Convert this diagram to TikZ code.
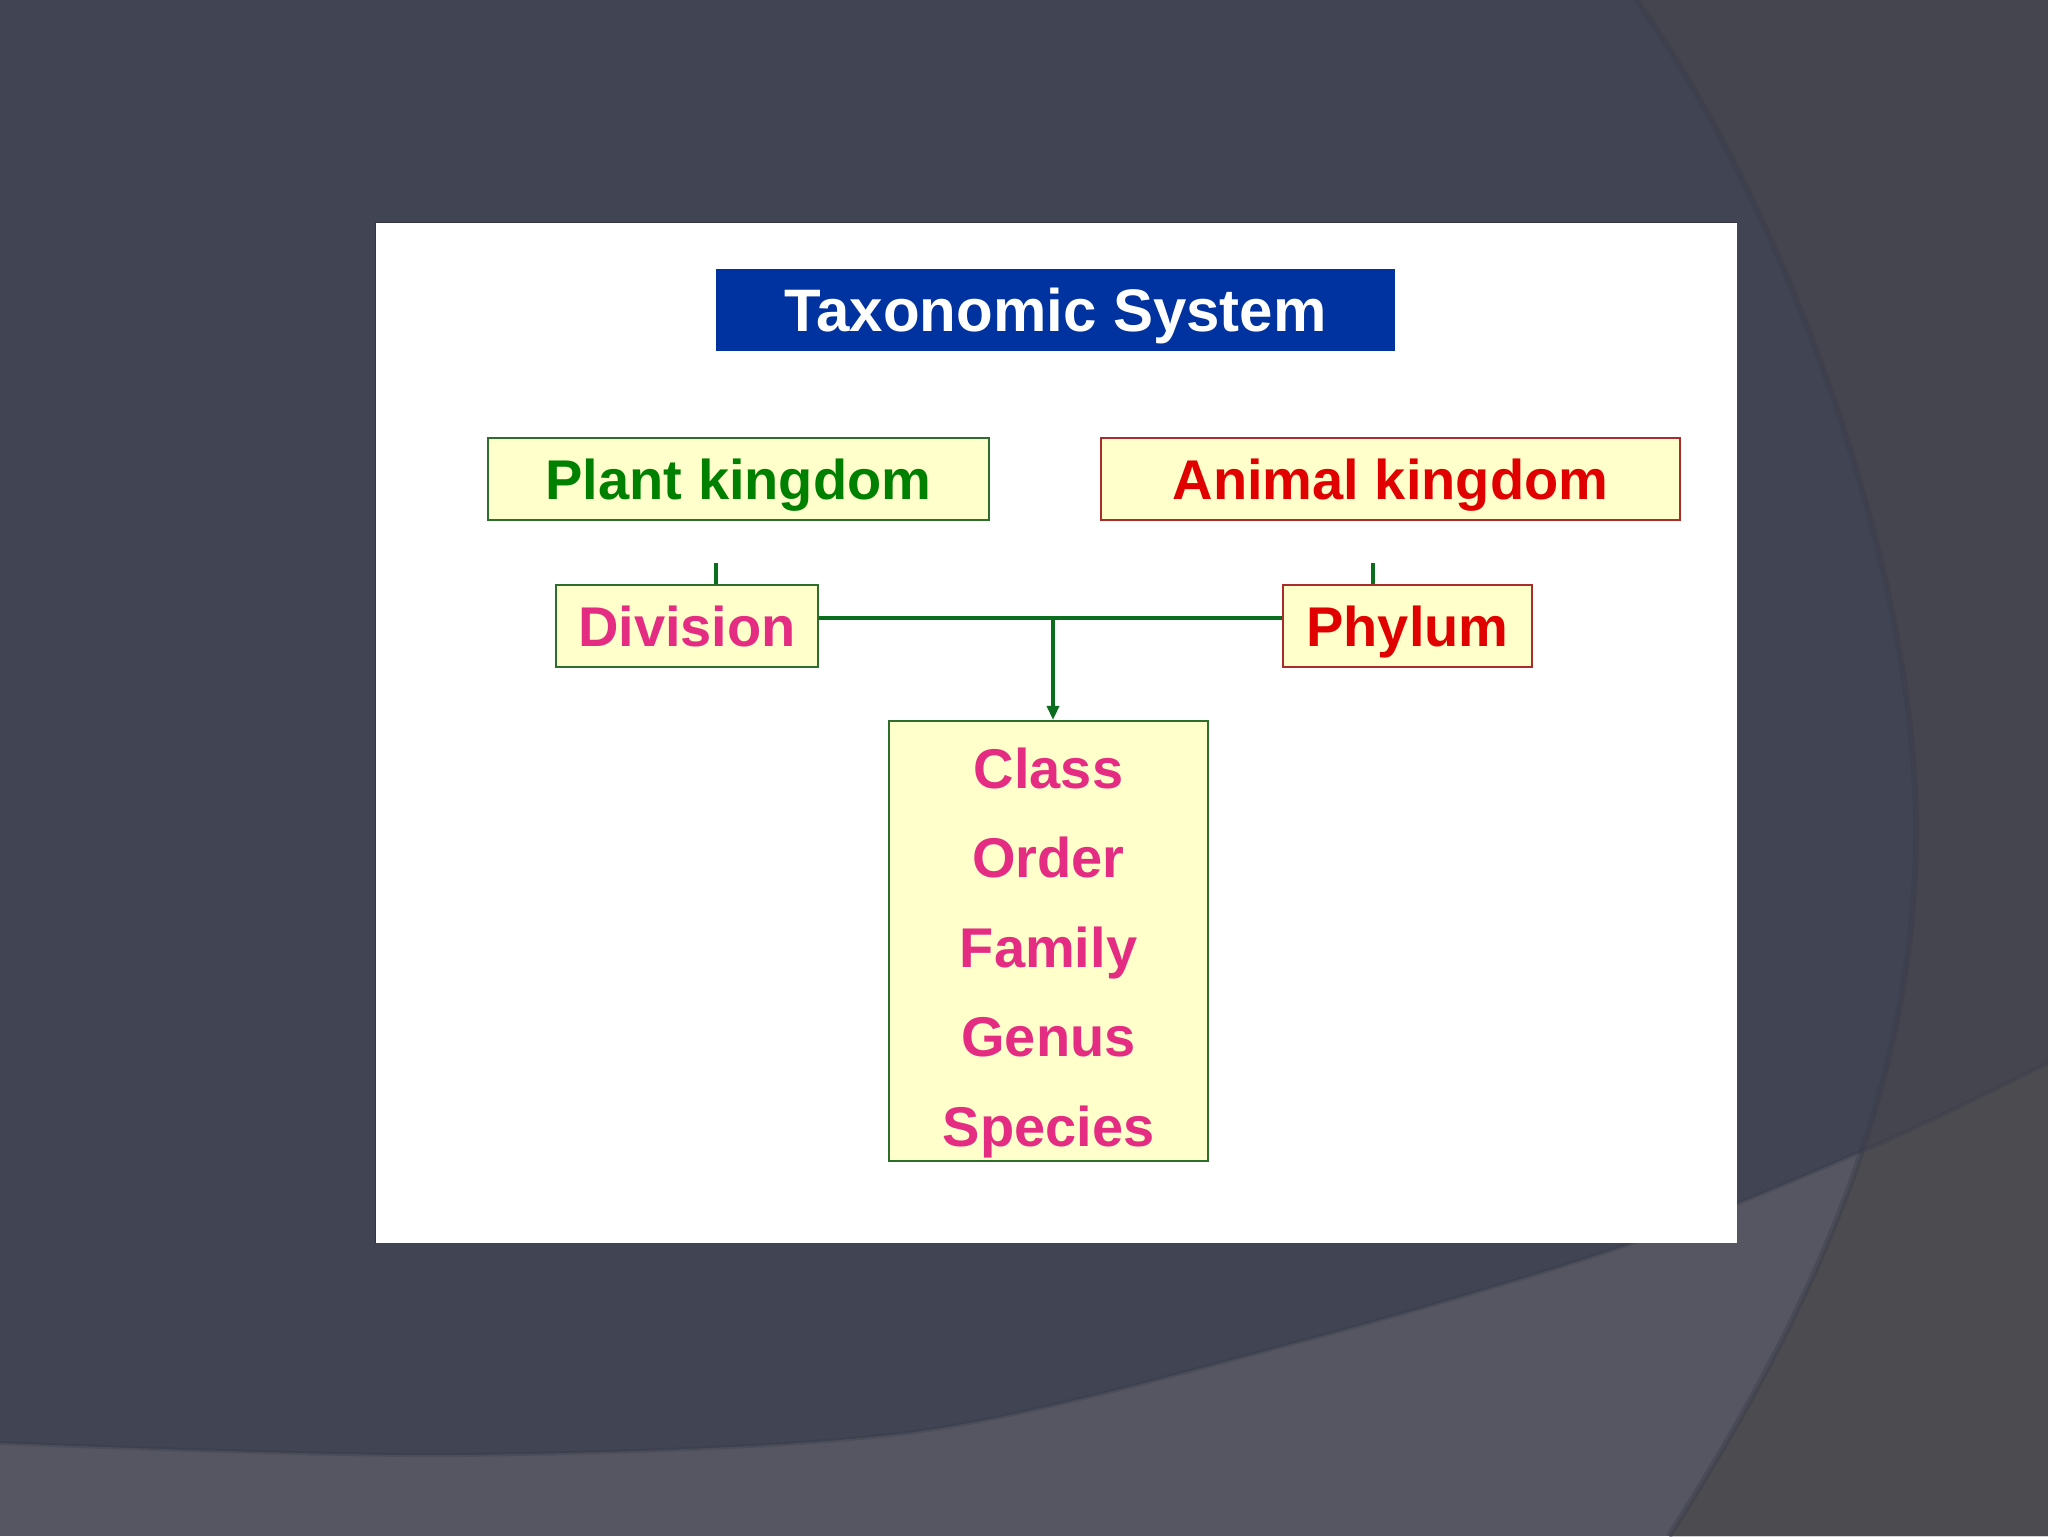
\documentclass[tikz,border=0pt]{standalone}
\usepackage{fontspec}
\setmainfont{Liberation Sans}
\usetikzlibrary{arrows.meta}
\definecolor{bgbase}{RGB}{65,68,82}
\definecolor{bgright}{RGB}{69,69,80}
\definecolor{bandin}{RGB}{85,86,97}
\definecolor{bandout}{RGB}{75,75,80}
\definecolor{arcshade}{RGB}{55,57,72}
\definecolor{boxfill}{RGB}{255,255,204}
\definecolor{titleblue}{RGB}{0,51,160}
\definecolor{grnborder}{RGB}{45,110,45}
\definecolor{redborder}{RGB}{170,45,45}
\definecolor{grntext}{RGB}{0,128,0}
\definecolor{redtext}{RGB}{225,0,0}
\definecolor{pinktext}{RGB}{228,45,130}
\definecolor{linkgreen}{RGB}{10,110,30}
\begin{document}
\begin{tikzpicture}[x=0.5pt,y=-0.5pt,
  box/.style={draw, line width=1.1pt, fill=boxfill, inner sep=0pt,
    text height=20pt, text depth=0pt, font=\fontsize{28}{34}\selectfont\bfseries},
  greenbox/.style={box, draw=grnborder},
  redbox/.style={box, draw=redborder},
  titlebox/.style={fill=titleblue, inner sep=0pt, text=white,
    text height=21.5pt, text depth=0pt, font=\fontsize{30}{36}\selectfont\bfseries},
  lbl/.style={inner sep=0pt, text=pinktext, font=\fontsize{28}{34}\selectfont\bfseries},
  link/.style={draw=linkgreen, line width=2.2pt}
]
\useasboundingbox (0,0) rectangle (2048,1536);
% background
\fill[bgbase] (0,0) rectangle (2048,1536);
\fill[bgright] (2048,0) -- (1636,0) .. controls (1780,200) and (1916,560) .. (1916,830) .. controls (1916,1100) and (1800,1330) .. (1669,1536) -- (2048,1536) -- cycle;
\begin{scope}
  \clip plot[smooth] coordinates {(0,1443) (457,1455) (914,1432) (1306,1340) (1633,1243) (1881,1143) (2048,1063)} -- (2048,1536) -- (0,1536) -- cycle;
  \fill[bandin] (0,1000) rectangle (2048,1536);
  \fill[bandout] (2048,0) -- (1636,0) .. controls (1780,200) and (1916,560) .. (1916,830) .. controls (1916,1100) and (1800,1330) .. (1669,1536) -- (2048,1536) -- cycle;
\end{scope}
\draw[arcshade, line width=3pt, opacity=0.35] (1636,0) .. controls (1780,200) and (1916,560) .. (1916,830) .. controls (1916,1100) and (1800,1330) .. (1669,1536);
\draw[arcshade, line width=2pt, opacity=0.3] plot[smooth] coordinates {(0,1443) (457,1455) (914,1432) (1306,1340) (1633,1243) (1881,1143) (2048,1063)};
% white panel
\fill[white] (375,222) rectangle (1737,1243);
\draw[bgbase!80!black, line width=0.5pt] (375,1243) -- (375,222) -- (1737,222);
% nodes
\node[titlebox, minimum width=339.5pt, minimum height=41pt] (title) at (1055.5,310) {Taxonomic System};
\node[greenbox, text=grntext, minimum width=250.5pt, minimum height=41pt] (plant) at (738.5,479) {Plant kingdom};
\node[redbox, text=redtext, minimum width=289.5pt, minimum height=41pt] (animal) at (1390.5,479) {Animal kingdom};
\node[greenbox, text=pinktext, minimum width=131pt, minimum height=41pt] (div) at (687,626) {Division};
\node[redbox, text=redtext, minimum width=124.5pt, minimum height=41pt] (phy) at (1407.5,626) {Phylum};
\node[greenbox, minimum width=159.5pt, minimum height=220pt] (cls) at (1048.5,941) {};
\node[lbl, anchor=base] (tclass) at (1048.5,788) {Class};
\node[lbl, anchor=base] (torder) at (1048.5,877.5) {Order};
\node[lbl, anchor=base] (tfamily) at (1048.5,967) {Family};
\node[lbl, anchor=base] (tgenus) at (1048.5,1056.5) {Genus};
\node[lbl, anchor=base] (tspecies) at (1048.5,1146) {Species};
% connectors
\coordinate (tickA) at (716,563);
\coordinate (tickB) at (1373,563);
\coordinate (junction) at (1053,618);
\draw[link, line width=1.7pt] (tickA) -- (tickA |- div.north);
\draw[link, line width=1.7pt] (tickB) -- (tickB |- phy.north);
\draw[link] (div.east |- junction) -- (phy.west |- junction);
\draw[link, line width=1.7pt, -{Triangle[length=7pt,width=6pt]}] (junction) -- (cls.north -| junction);
\end{tikzpicture}
\end{document}
